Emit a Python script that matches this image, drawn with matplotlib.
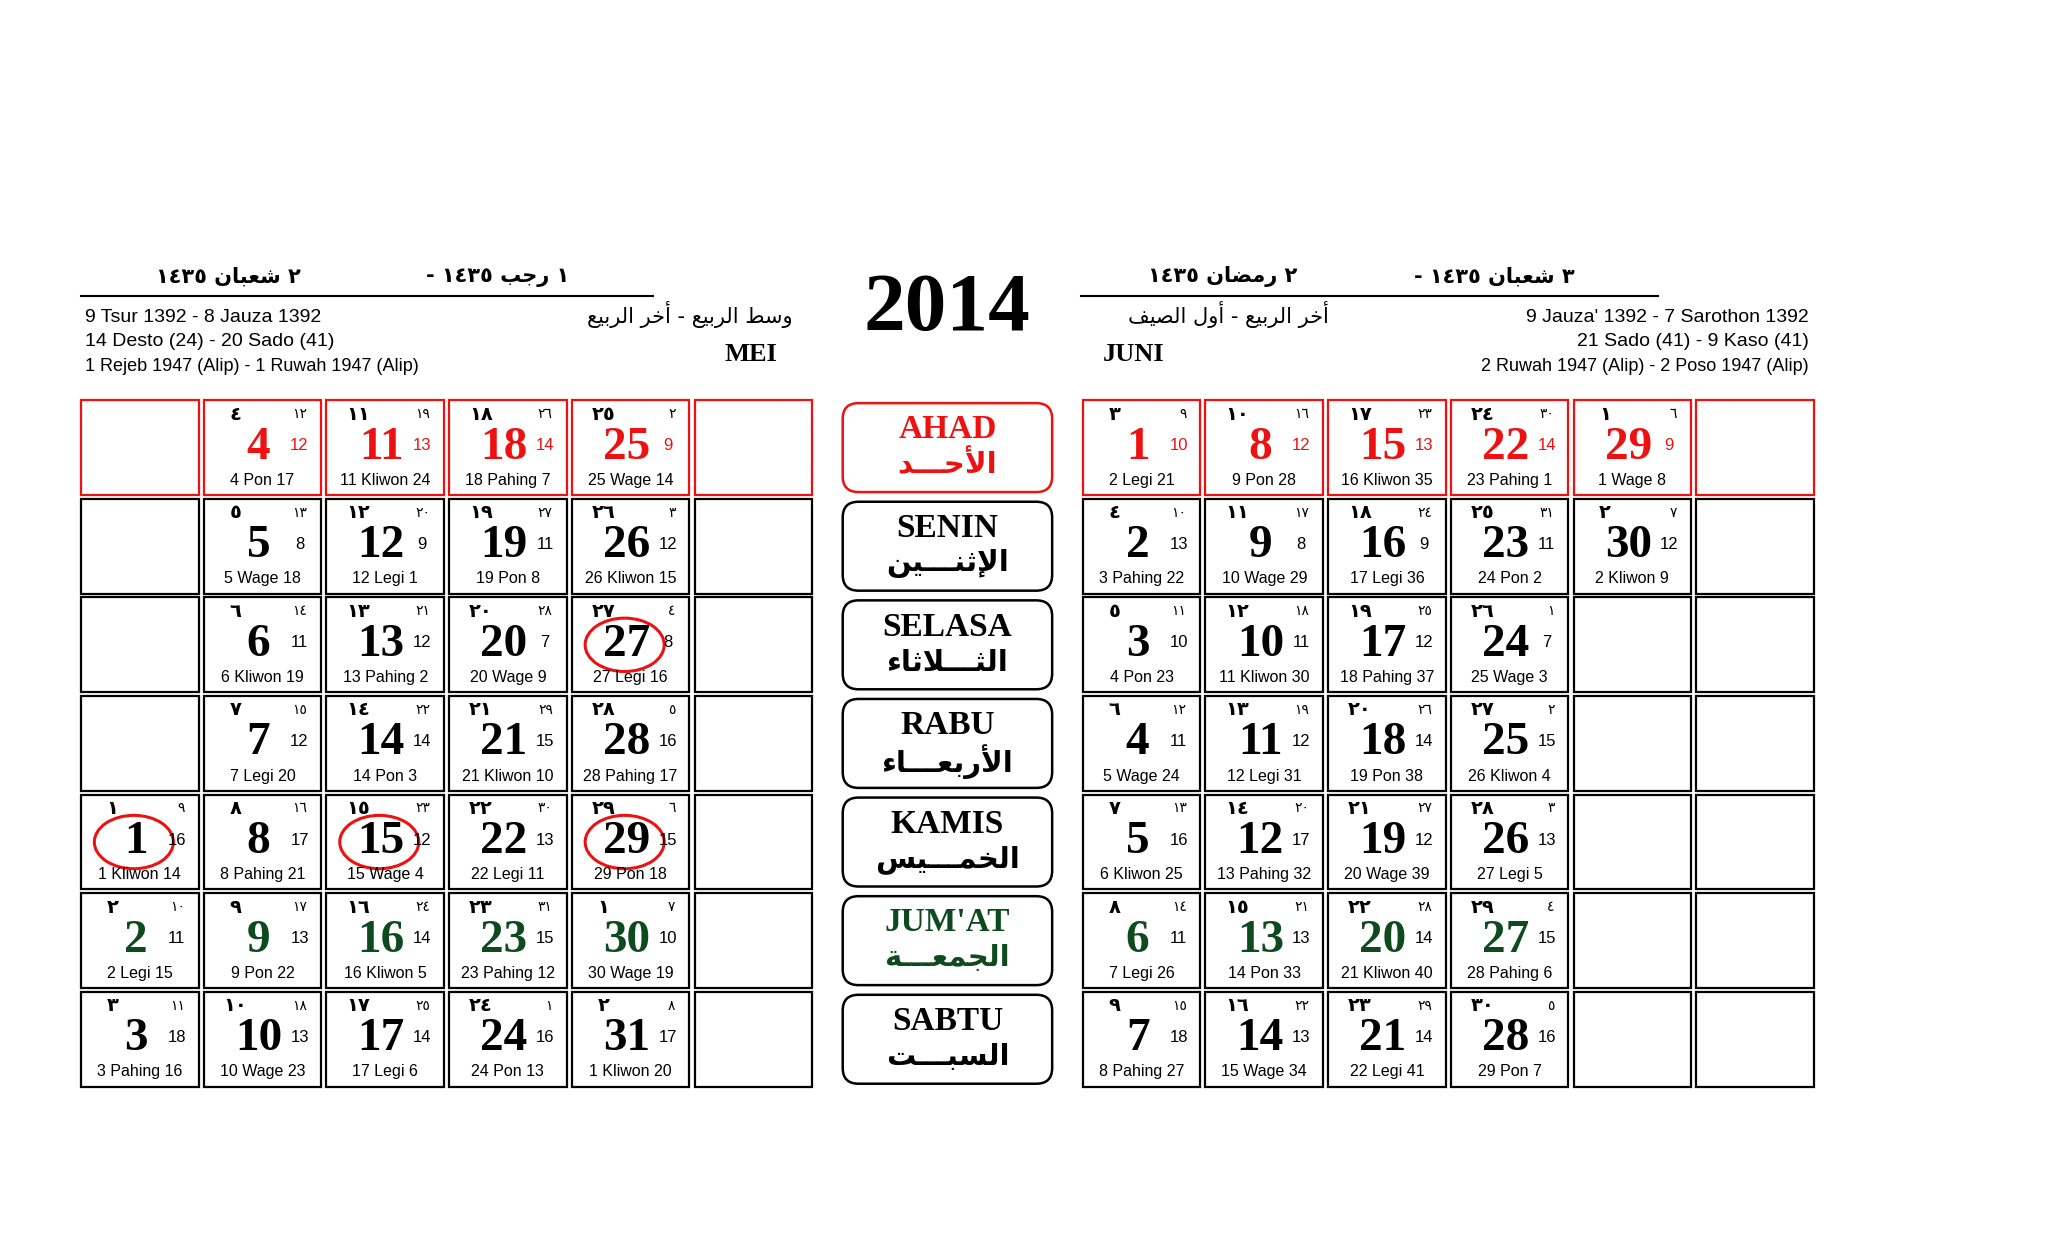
import re
import matplotlib
matplotlib.use("Agg")
import matplotlib.pyplot as plt
from matplotlib.patches import Rectangle, Ellipse, FancyBboxPatch

# ---- data ----
may_start = 4   # 1 Mei = Kamis (Ahad = 0)
may_tl = [1, 2, 3, 4, 5, 6, 7, 8, 9, 10, 11, 12, 13, 14, 15, 16, 17, 18, 19, 20,
          21, 22, 23, 24, 25, 26, 27, 28, 29, 1, 2]
may_tr = [9, 10, 11, 12, 13, 14, 15, 16, 17, 18, 19, 20, 21, 22, 23, 24, 25, 26, 27, 28,
          29, 30, 31, 1, 2, 3, 4, 5, 6, 7, 8]
may_side = [16, 11, 18, 12, 8, 11, 12, 17, 13, 13, 13, 9, 12, 14, 12, 14, 14, 14, 11, 7,
            15, 13, 15, 16, 9, 12, 8, 16, 15, 10, 17]
may_bottom = ["1 Kliwon 14", "2 Legi 15", "3 Pahing 16", "4 Pon 17", "5 Wage 18",
              "6 Kliwon 19", "7 Legi 20", "8 Pahing 21", "9 Pon 22", "10 Wage 23",
              "11 Kliwon 24", "12 Legi 1", "13 Pahing 2", "14 Pon 3", "15 Wage 4",
              "16 Kliwon 5", "17 Legi 6", "18 Pahing 7", "19 Pon 8", "20 Wage 9",
              "21 Kliwon 10", "22 Legi 11", "23 Pahing 12", "24 Pon 13", "25 Wage 14",
              "26 Kliwon 15", "27 Legi 16", "28 Pahing 17", "29 Pon 18", "30 Wage 19",
              "1 Kliwon 20"]
may_circled = [1, 15, 27, 29]

jun_start = 0   # 1 Juni = Ahad
jun_tl = [3, 4, 5, 6, 7, 8, 9, 10, 11, 12, 13, 14, 15, 16, 17, 18, 19, 20, 21, 22,
          23, 24, 25, 26, 27, 28, 29, 30, 1, 2]
jun_tr = [9, 10, 11, 12, 13, 14, 15, 16, 17, 18, 19, 20, 21, 22, 23, 24, 25, 26, 27, 28,
          29, 30, 31, 1, 2, 3, 4, 5, 6, 7]
jun_side = [10, 13, 10, 11, 16, 11, 18, 12, 8, 11, 12, 17, 13, 13, 13, 9, 12, 14, 12, 14,
            14, 14, 11, 7, 15, 13, 15, 16, 9, 12]
jun_bottom = ["2 Legi 21", "3 Pahing 22", "4 Pon 23", "5 Wage 24", "6 Kliwon 25",
              "7 Legi 26", "8 Pahing 27", "9 Pon 28", "10 Wage 29", "11 Kliwon 30",
              "12 Legi 31", "13 Pahing 32", "14 Pon 33", "15 Wage 34", "16 Kliwon 35",
              "17 Legi 36", "18 Pahing 37", "19 Pon 38", "20 Wage 39", "21 Kliwon 40",
              "22 Legi 41", "23 Pahing 1", "24 Pon 2", "25 Wage 3", "26 Kliwon 4",
              "27 Legi 5", "28 Pahing 6", "29 Pon 7", "1 Wage 8", "2 Kliwon 9"]
jun_circled = []

day_latin = ["AHAD", "SENIN", "SELASA", "RABU", "KAMIS", "JUM'AT", "SABTU"]
day_arabic = ["الأحـــد", "الإثنـــين", "الثـــلاثاء", "الأربعـــاء", "الخمـــيس",
              "الجمعـــة", "السبـــت"]

# ---- simple Arabic shaping (matplotlib does not shape) ----
FORMS = {'ء': (0xFE80, 0), 'آ': (0xFE81, 1), 'أ': (0xFE83, 1), 'إ': (0xFE87, 1),
         'ا': (0xFE8D, 1), 'ب': (0xFE8F, 2), 'ة': (0xFE93, 1), 'ت': (0xFE95, 2),
         'ث': (0xFE99, 2), 'ج': (0xFE9D, 2), 'ح': (0xFEA1, 2), 'خ': (0xFEA5, 2),
         'د': (0xFEA9, 1), 'ر': (0xFEAD, 1), 'س': (0xFEB1, 2), 'ش': (0xFEB5, 2),
         'ص': (0xFEB9, 2), 'ض': (0xFEBD, 2), 'ط': (0xFEC1, 2), 'ع': (0xFEC9, 2),
         'ف': (0xFED1, 2), 'ل': (0xFEDD, 2), 'م': (0xFEE1, 2), 'ن': (0xFEE5, 2),
         'و': (0xFEED, 1), 'ي': (0xFEF1, 2)}
LAMALEF = {'آ': 0xFEF5, 'أ': 0xFEF7, 'إ': 0xFEF9, 'ا': 0xFEFB}


def jtype(c):
    if c == 'ـ':
        return 2
    if isinstance(c, tuple):
        return 1
    return FORMS.get(c, (0, -1))[1]


def shape(s):
    toks = []
    i = 0
    while i < len(s):
        if s[i] == 'ل' and i + 1 < len(s) and s[i + 1] in LAMALEF:
            toks.append(('LA', LAMALEF[s[i + 1]]))
            i += 2
        else:
            toks.append(s[i])
            i += 1
    out = []
    for k, c in enumerate(toks):
        t = jtype(c)
        prev_t = jtype(toks[k - 1]) if k > 0 else -1
        next_t = jtype(toks[k + 1]) if k + 1 < len(toks) else -1
        jp = t >= 1 and prev_t == 2
        jn = t == 2 and next_t >= 1
        if c == 'ـ':
            out.append(c)
        elif isinstance(c, tuple):
            out.append(chr(c[1] + (1 if jp else 0)))
        elif c in FORMS:
            base = FORMS[c][0]
            if t == 2:
                off = 3 if (jp and jn) else 1 if jp else 2 if jn else 0
            else:
                off = 1 if jp else 0
            out.append(chr(base + off))
        else:
            out.append(c)
    return ''.join(out)


def visual(s):
    runs = re.findall(r'[0-9\u0660-\u0669]+|[^0-9\u0660-\u0669]+', shape(s))
    return ''.join(r if r[0].isdigit() else r[::-1] for r in reversed(runs))


def ar_num(n):
    return ''.join(chr(0x0660 + int(d)) for d in str(n))


# ---- drawing ----
fig = plt.figure(figsize=(20.48, 12.43), dpi=100)
ax = fig.add_axes([0, 0, 1, 1])
ax.set_xlim(0, 2073)
ax.set_ylim(1258, 0)
ax.axis("off")

AR = ['DejaVu Sans']
SERIF = ['Liberation Serif', 'DejaVu Serif']
NARROW = ['Liberation Sans Narrow', 'Liberation Sans', 'DejaVu Sans']
SANS = ['Liberation Sans', 'DejaVu Sans']
GREEN = '#0f4a1f'
RED = '#ee1111'

PX, PY, CW, CH = 124.2, 99.8, 119, 96
Y0 = 405


def row_color(r):
    return RED if r == 0 else GREEN if r == 5 else 'black'


def draw_month(x0, start, ndays, tl, tr, side, bottom, circled):
    for r in range(7):
        for c in range(6):
            ax.add_patch(Rectangle((x0 + c * PX, Y0 + r * PY), CW, CH, fill=False,
                                   ec=RED if r == 0 else 'black', lw=1.6))
    for d in range(1, ndays + 1):
        idx = start + d - 1
        r, c = idx % 7, idx // 7
        x, y = x0 + c * PX, Y0 + r * PY
        col = row_color(r)
        ax.text(x + 32, y + 14, ar_num(tl[d - 1]), family=AR, fontsize=14,
                fontweight='bold', ha='center', va='center')
        ax.text(x + CW - 14, y + 14, ar_num(tr[d - 1]), family=AR, fontsize=10,
                ha='right', va='center')
        ax.text(x + CW / 2 - 4, y + 48, str(d), family=SERIF, fontsize=34,
                fontweight='bold', color=col, ha='center', va='center')
        ax.text(x + 97, y + 46, str(side[d - 1]), family=NARROW, fontsize=12,
                color=RED if r == 0 else 'black', ha='center', va='center')
        ax.text(x + CW / 2, y + 81, bottom[d - 1], family=NARROW, fontsize=11.5,
                ha='center', va='center')
        if d in circled:
            ax.add_patch(Ellipse((x + CW / 2 - 6, y + 48), 80, 54, fill=False,
                                 ec=RED, lw=2.2))


draw_month(82, may_start, 31, may_tl, may_tr, may_side, may_bottom, may_circled)
draw_month(1096, jun_start, 30, jun_tl, jun_tr, jun_side, jun_bottom, jun_circled)

# day name labels
for r in range(7):
    y = Y0 + r * PY
    col = RED if r == 0 else 'black'
    ax.add_patch(FancyBboxPatch((853, y + 3), 212, CH - 6,
                                boxstyle="round,pad=0,rounding_size=16",
                                fill=False, ec=col, lw=1.8))
    tcol = RED if r == 0 else GREEN if r == 5 else 'black'
    ax.text(959, y + 30, day_latin[r], family=SERIF, fontsize=24, fontweight='bold',
            color=tcol, ha='center', va='center')
    ax.text(959, y + 66, visual(day_arabic[r]), family=AR, fontsize=21, fontweight='bold',
            color=tcol, ha='center', va='center')

# header
ax.text(958, 314, "2014", family=SERIF, fontsize=60, fontweight='bold',
        ha='center', va='center')

ax.plot([82, 661], [300, 300], color='black', lw=1.5)
ax.plot([1094, 1678], [300, 300], color='black', lw=1.5)
ax.text(231, 280, visual("٢ شعبان ١٤٣٥"), family=AR, fontsize=15, fontweight='bold',
        ha='center', va='center')
ax.text(504, 280, visual("١ رجب ١٤٣٥ -"), family=AR, fontsize=15, fontweight='bold',
        ha='center', va='center')
ax.text(1238, 280, visual("٢ رمضان ١٤٣٥"), family=AR, fontsize=15, fontweight='bold',
        ha='center', va='center')
ax.text(1513, 280, visual("٣ شعبان ١٤٣٥ -"), family=AR, fontsize=15, fontweight='bold',
        ha='center', va='center')

ax.text(86, 321, "9 Tsur 1392 - 8 Jauza 1392", family=SANS, fontsize=14, va='center')
ax.text(86, 346, "14 Desto (24) - 20 Sado (41)", family=SANS, fontsize=14, va='center')
ax.text(86, 371, "1 Rejeb 1947 (Alip) - 1 Ruwah 1947 (Alip)", family=NARROW, fontsize=13,
        va='center')
ax.text(802, 318, visual("وسط الربيع - أخر الربيع"), family=AR, fontsize=15, ha='right',
        va='center')
ax.text(760, 359, "MEI", family=SERIF, fontsize=19, fontweight='bold', ha='center',
        va='center')

ax.text(1831, 321, "9 Jauza' 1392 - 7 Sarothon 1392", family=SANS, fontsize=14,
        ha='right', va='center')
ax.text(1831, 346, "21 Sado (41) - 9 Kaso (41)", family=SANS, fontsize=14, ha='right',
        va='center')
ax.text(1831, 371, "2 Ruwah 1947 (Alip) - 2 Poso 1947 (Alip)", family=NARROW, fontsize=13,
        ha='right', va='center')
ax.text(1345, 318, visual("أخر الربيع - أول الصيف"), family=AR, fontsize=15, ha='right',
        va='center')
ax.text(1147, 359, "JUNI", family=SERIF, fontsize=19, fontweight='bold', ha='center',
        va='center')

fig.savefig("out.png", dpi=100, facecolor='white')
